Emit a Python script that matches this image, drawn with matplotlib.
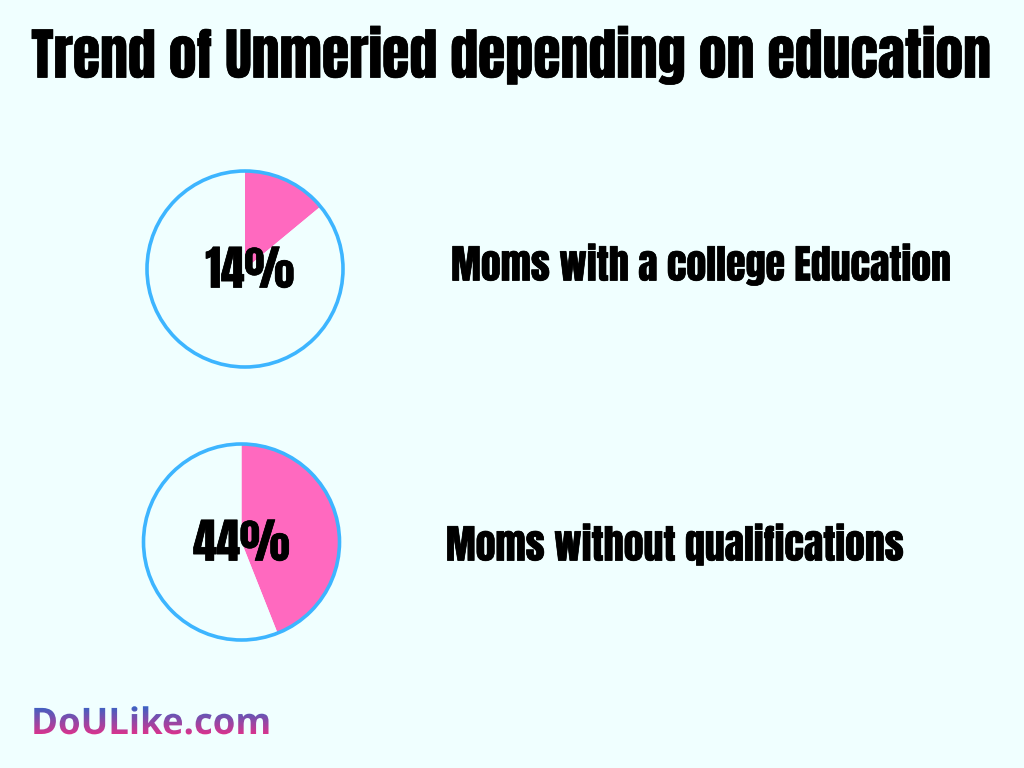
import matplotlib
matplotlib.use('Agg')
import matplotlib.pyplot as plt
import numpy as np
from matplotlib.patheffects import AbstractPathEffect, Stroke, Normal
from matplotlib.transforms import Bbox

title = 'Trend of Unmeried depending on education'
labels = ['Moms with a college Education', 'Moms without qualifications']
shares = [14, 44]
pct_labels = ['14%', '44%']
brand = 'DoULike.com'

BG = '#F0FFFF'
PINK = '#FF69BF'
RING = '#3DB5FF'
W, H = 1024, 768
fig = plt.figure(figsize=(W/100, H/100), dpi=100, facecolor=BG)
bg = fig.add_axes([0, 0, 1, 1])
bg.set_xlim(0, W); bg.set_ylim(H, 0); bg.axis('off')

heavy = ['Anton', 'Oswald', 'DejaVu Sans']
thicken = [Stroke(linewidth=0.5, foreground='black'), Normal()]
bg.text(512, 55, title, ha='center', va='center', family=heavy, fontsize=40.2, color='black', path_effects=thicken)
bg.text(701, 264.5, labels[0], ha='center', va='center', family=heavy, fontsize=28.7, color='black', path_effects=thicken)
bg.text(675, 544.5, labels[1], ha='center', va='center', family=heavy, fontsize=28.7, color='black', path_effects=thicken)

centers = [(245, 269), (241.5, 542)]
R = 98
for (cx, cy), v, lab in zip(centers, shares, pct_labels):
    a = fig.add_axes([(cx-R-3)/W, 1-(cy+R+3)/H, (2*R+6)/W, (2*R+6)/H])
    a.pie([v, 100-v], startangle=90, counterclock=False, colors=[PINK, BG], radius=1,
          wedgeprops=dict(linewidth=0))
    a.add_patch(plt.Circle((0, 0), 1, fill=False, ec=RING, lw=2.6))
    lim = (R+3)/R
    a.set_xlim(-lim, lim); a.set_ylim(-lim, lim); a.set_aspect('equal'); a.patch.set_alpha(0)
    a.text(0.05 if v == 14 else 0.0, -0.01, lab, ha='center', va='center', family=heavy, fontsize=34,
           color='black', path_effects=thicken)


class VerticalGradient(AbstractPathEffect):
    """Paints the glyphs of a text in one-pixel bands from top colour to bottom colour."""
    def __init__(self, y_top, y_bottom, c_top, c_bottom):
        super().__init__()
        self.y_top, self.y_bottom = y_top, y_bottom
        self.c_top, self.c_bottom = np.array(c_top), np.array(c_bottom)

    def draw_path(self, renderer, gc, tpath, affine, rgbFace=None):
        for row in range(self.y_top - 4, self.y_bottom + 4):
            f = np.clip((row - self.y_top) / (self.y_bottom - self.y_top), 0, 1)
            col = tuple((1 - f) * self.c_top + f * self.c_bottom)
            g = renderer.new_gc()
            g.copy_properties(gc)
            g.set_clip_rectangle(Bbox([[0, H - row - 1], [W, H - row]]))
            g.set_linewidth(0)
            renderer.draw_path(g, tpath, affine, col + (1.0,))
            g.restore()


grad = VerticalGradient(706, 734,
                        (0x3A/255, 0x62/255, 0xC4/255),
                        (0xDC/255, 0x32/255, 0x8C/255))
bg.text(31, 734, brand, ha='left', va='baseline', family='Open Sans', weight='bold',
        fontsize=26.3, color='#8A4AA8', path_effects=[grad])

fig.savefig('out.png', dpi=100, facecolor=BG)
